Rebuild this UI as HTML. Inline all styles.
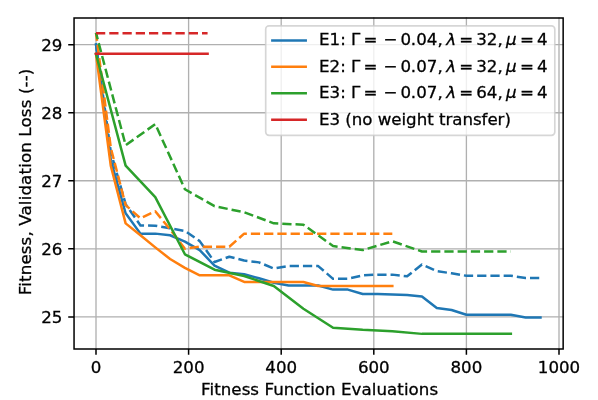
<!DOCTYPE html>
<html lang="en"><head><meta charset="utf-8"><title>Fitness, Validation Loss</title>
<style>html,body{margin:0;padding:0;background:#fff}svg{display:block}text{font-family:"DejaVu Sans","Liberation Sans",sans-serif;font-size:16.667px;fill:#000;stroke:#000;stroke-width:0.3px}.i{font-style:oblique}</style></head><body>
<svg width="598" height="400" viewBox="0 0 598 400">
<rect width="598" height="400" fill="#fff"/>
<path d="M96.00 348.97V17.90M188.60 348.97V17.90M281.20 348.97V17.90M373.80 348.97V17.90M466.40 348.97V17.90M559.00 348.97V17.90M74.05 316.92H563.15M74.05 248.85H563.15M74.05 180.78H563.15M74.05 112.71H563.15M74.05 44.64H563.15" fill="none" stroke="#b0b0b0" stroke-width="1.333" stroke-linecap="square"/>
<defs><clipPath id="c"><rect x="74.05" y="17.90" width="489.10" height="331.07"/></clipPath></defs>
<g clip-path="url(#c)" fill="none" stroke-width="2.500" stroke-linejoin="round">
<path d="M96.00 44.45L110.82 160.22L125.63 213.34L140.45 233.63L155.26 233.63L170.08 235.27L184.90 241.60L199.71 250.11L214.53 265.57L229.34 272.72L244.16 274.29L258.98 278.31L273.79 282.80L288.61 285.52L303.42 285.52L318.24 285.52L333.06 289.61L347.87 289.61L362.69 294.04L377.50 294.04L392.32 294.38L407.14 295.06L421.95 296.42L436.77 308.00L451.58 310.04L466.40 314.81L481.22 314.81L496.03 314.81L510.85 314.81L525.66 317.53L540.48 317.53" stroke="#1f77b4" stroke-linecap="square"/>
<path d="M96.00 44.45L110.82 152.05L125.63 204.21L140.45 225.46L155.26 225.73L170.08 228.32L184.90 230.91L199.71 241.12L214.53 262.03L229.34 256.72L244.16 260.53L258.98 262.37L273.79 268.50L288.61 266.12L303.42 266.12L318.24 266.12L333.06 278.85L347.87 278.85L362.69 275.31L377.50 274.63L392.32 274.63L407.14 276.33L421.95 264.41L436.77 271.22L451.58 273.27L466.40 275.79L481.22 275.79L496.03 275.79L510.85 275.79L525.66 278.03L540.48 278.03" stroke="#1f77b4" stroke-dasharray="9.250 4.000" stroke-dashoffset="2.40" stroke-linecap="butt"/>
<path d="M96.00 53.98L110.82 166.01L125.63 223.35L140.45 235.33L155.26 247.39L170.08 258.96L184.90 267.82L199.71 275.31L214.53 275.31L229.34 275.31L244.16 281.98L258.98 281.98L273.79 281.98L288.61 281.98L303.42 281.98L318.24 286.07L392.32 286.07" stroke="#ff7f0e" stroke-linecap="square"/>
<path d="M96.00 32.87L110.82 147.96L125.63 205.17L140.45 218.31L155.26 211.29L170.08 229.34L184.90 248.75L199.71 246.71L214.53 246.71L229.34 246.71L244.16 233.63L392.32 233.63" stroke="#ff7f0e" stroke-dasharray="9.250 4.000" stroke-dashoffset="1.10" stroke-linecap="butt"/>
<path d="M96.00 53.98L125.63 165.67L155.26 197.20L184.90 254.27L214.53 269.72L244.16 275.99L273.79 286.00L303.42 308.68L333.06 327.75L362.69 329.79L392.32 331.15L421.95 333.87L451.58 333.87L481.22 333.87L510.85 333.87" stroke="#2ca02c" stroke-linecap="square"/>
<path d="M96.00 32.87L125.63 145.24L155.26 124.13L184.90 189.23L214.53 206.19L244.16 212.25L273.79 223.35L303.42 224.71L333.06 246.03L362.69 250.11L392.32 241.26L421.95 251.47L451.58 251.47L481.22 251.47L510.85 251.47" stroke="#2ca02c" stroke-dasharray="9.250 4.000" stroke-dashoffset="2.60" stroke-linecap="butt"/>
<path d="M96.00 53.78L207.58 53.78" stroke="#d62728" stroke-linecap="square"/>
<path d="M96.00 33.15L207.58 33.15" stroke="#d62728" stroke-dasharray="9.250 4.000" stroke-dashoffset="0.00" stroke-linecap="butt"/>
</g>
<path d="M96.00 348.97v5.833M188.60 348.97v5.833M281.20 348.97v5.833M373.80 348.97v5.833M466.40 348.97v5.833M559.00 348.97v5.833M74.05 316.92h-5.833M74.05 248.85h-5.833M74.05 180.78h-5.833M74.05 112.71h-5.833M74.05 44.64h-5.833" fill="none" stroke="#000" stroke-width="1.500"/>
<path d="M74.05 348.97V17.90M563.15 348.97V17.90M74.05 348.97H563.15M74.05 17.90H563.15" fill="none" stroke="#000" stroke-width="1.500" stroke-linecap="square"/>
<text x="96.00" y="372.80" text-anchor="middle">0</text>
<text x="188.60" y="372.80" text-anchor="middle">200</text>
<text x="281.20" y="372.80" text-anchor="middle">400</text>
<text x="373.80" y="372.80" text-anchor="middle">600</text>
<text x="466.40" y="372.80" text-anchor="middle">800</text>
<text x="559.00" y="372.80" text-anchor="middle">1000</text>
<text x="62.38" y="323.12" text-anchor="end">25</text>
<text x="62.38" y="255.05" text-anchor="end">26</text>
<text x="62.38" y="186.98" text-anchor="end">27</text>
<text x="62.38" y="118.91" text-anchor="end">28</text>
<text x="62.38" y="50.84" text-anchor="end">29</text>
<text x="319.60" y="394.80" text-anchor="middle" style="letter-spacing:0.05px">Fitness Function Evaluations</text>
<text transform="translate(30.90 181.90) rotate(-90)" text-anchor="middle" style="letter-spacing:0.14px">Fitness, Validation Loss (--)</text>
<rect x="265.70" y="25.90" width="289.10" height="109.40" rx="3.33" fill="#fff" fill-opacity="0.8" stroke="#ccc" stroke-opacity="0.8" stroke-width="1.667"/>
<path d="M272.37 40.40H305.70" stroke="#1f77b4" stroke-width="2.500" stroke-linecap="square" fill="none"/>
<path d="M272.37 66.80H305.70" stroke="#ff7f0e" stroke-width="2.500" stroke-linecap="square" fill="none"/>
<path d="M272.37 93.20H305.70" stroke="#2ca02c" stroke-width="2.500" stroke-linecap="square" fill="none"/>
<path d="M272.37 119.70H305.70" stroke="#d62728" stroke-width="2.500" stroke-linecap="square" fill="none"/>
<text y="45.10"><tspan x="319.03">E</tspan><tspan x="329.56">1</tspan><tspan x="340.17">:</tspan><tspan x="351.08">Γ</tspan><tspan x="363.61">=</tspan><tspan x="383.38">−</tspan><tspan x="400.39">0</tspan><tspan x="410.79">.</tspan><tspan x="416.19">0</tspan><tspan x="426.80">4</tspan><tspan x="437.40">,</tspan><tspan x="446.14" class="i">λ</tspan><tspan x="459.25">=</tspan><tspan x="476.37">3</tspan><tspan x="486.87">2</tspan><tspan x="497.47">,</tspan><tspan x="506.02" class="i">μ</tspan><tspan x="519.97">=</tspan><tspan x="537.08">4</tspan></text>
<text y="71.70"><tspan x="319.03">E</tspan><tspan x="329.56">2</tspan><tspan x="340.17">:</tspan><tspan x="351.08">Γ</tspan><tspan x="363.61">=</tspan><tspan x="383.38">−</tspan><tspan x="400.39">0</tspan><tspan x="410.79">.</tspan><tspan x="416.19">0</tspan><tspan x="426.80">7</tspan><tspan x="437.40">,</tspan><tspan x="446.14" class="i">λ</tspan><tspan x="459.25">=</tspan><tspan x="476.37">3</tspan><tspan x="486.87">2</tspan><tspan x="497.47">,</tspan><tspan x="506.02" class="i">μ</tspan><tspan x="519.97">=</tspan><tspan x="537.08">4</tspan></text>
<text y="98.20"><tspan x="319.03">E</tspan><tspan x="329.56">3</tspan><tspan x="340.17">:</tspan><tspan x="351.08">Γ</tspan><tspan x="363.61">=</tspan><tspan x="383.38">−</tspan><tspan x="400.39">0</tspan><tspan x="410.79">.</tspan><tspan x="416.19">0</tspan><tspan x="426.80">7</tspan><tspan x="437.40">,</tspan><tspan x="446.14" class="i">λ</tspan><tspan x="459.25">=</tspan><tspan x="476.37">6</tspan><tspan x="486.87">4</tspan><tspan x="497.47">,</tspan><tspan x="506.02" class="i">μ</tspan><tspan x="519.97">=</tspan><tspan x="537.08">4</tspan></text>
<text x="319.03" y="124.70" style="letter-spacing:-0.035px">E3 (no weight transfer)</text>
</svg></body></html>
